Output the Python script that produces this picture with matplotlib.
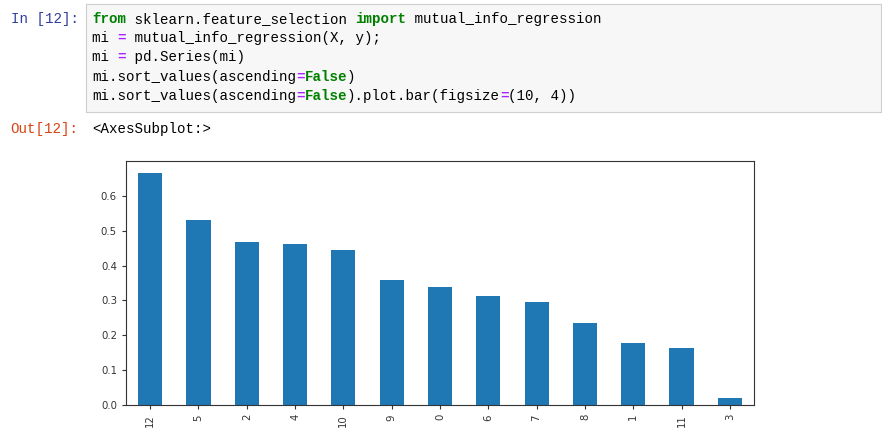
import matplotlib.pyplot as plt

labels = ["12", "5", "2", "4", "10", "9", "0", "6", "7", "8", "1", "11", "3"]
values = [0.665, 0.530, 0.467, 0.463, 0.444, 0.360, 0.338, 0.312, 0.296, 0.236, 0.178, 0.163, 0.021]

code_lines = [
    [("from", "#008000", "bold"), (" sklearn.feature_selection ", "black", "normal"),
     ("import", "#008000", "bold"), (" mutual_info_regression", "black", "normal")],
    [("mi ", "black", "normal"), ("=", "#AA22FF", "bold"), (" mutual_info_regression(X, y);", "black", "normal")],
    [("mi ", "black", "normal"), ("=", "#AA22FF", "bold"), (" pd.Series(mi)", "black", "normal")],
    [("mi.sort_values(ascending", "black", "normal"), ("=", "#AA22FF", "bold"),
     ("False", "#008000", "bold"), (")", "black", "normal")],
    [("mi.sort_values(ascending", "black", "normal"), ("=", "#AA22FF", "bold"),
     ("False", "#008000", "bold"), (").plot.bar(figsize", "black", "normal"),
     ("=", "#AA22FF", "bold"), ("(10, 4))", "black", "normal")],
]

W, H, DPI = 882, 443, 100
fig = plt.figure(figsize=(W / DPI, H / DPI), dpi=DPI)

# code cell background
bg = fig.add_axes([86 / W, 1 - 112 / H, (W - 87) / W, 108 / H])
bg.set_xticks([]); bg.set_yticks([])
bg.set_facecolor("#f7f7f7")
for s in bg.spines.values():
    s.set_color("#cfcfcf")

fs = 10.2
cw = 0.6 * fs * DPI / 72  # char width in px
mono = "Liberation Mono"
line_y = [19, 38, 57, 77, 96]
for ly, segs in zip(line_y, code_lines):
    x = 92
    for txt, col, wt in segs:
        fig.text(x / W, 1 - ly / H, txt, color=col, fontweight=wt, family=mono,
                 fontsize=fs, va="center", ha="left")
        x += len(txt) * cw

fig.text(11 / W, 1 - 19 / H, "In [12]:", color="#303F9F", family=mono, fontsize=fs, va="center")
fig.text(10 / W, 1 - 129 / H, "Out[12]:", color="#D84315", family=mono, fontsize=fs, va="center")
fig.text(92 / W, 1 - 129 / H, "<AxesSubplot:>", color="black", family=mono, fontsize=fs, va="center")

# the bar chart
ax = fig.add_axes([126 / W, 1 - 405 / H, (754 - 126) / W, (405 - 161) / H])
ax.bar(range(len(values)), values, width=0.5, color="#1f77b4")
ax.set_xlim(-0.5, len(values) - 0.5)
ax.set_ylim(0, 0.7)
ax.set_yticks([0.0, 0.1, 0.2, 0.3, 0.4, 0.5, 0.6])
ax.set_yticklabels(["0.0", "0.1", "0.2", "0.3", "0.4", "0.5", "0.6"])
ax.set_xticks(range(len(values)))
ax.set_xticklabels(labels, rotation=90)
ax.tick_params(labelsize=7.3, colors="#333333", length=3)
for s in ax.spines.values():
    s.set_color("#333333")
    s.set_linewidth(0.8)

fig.savefig("out.png", dpi=DPI)
